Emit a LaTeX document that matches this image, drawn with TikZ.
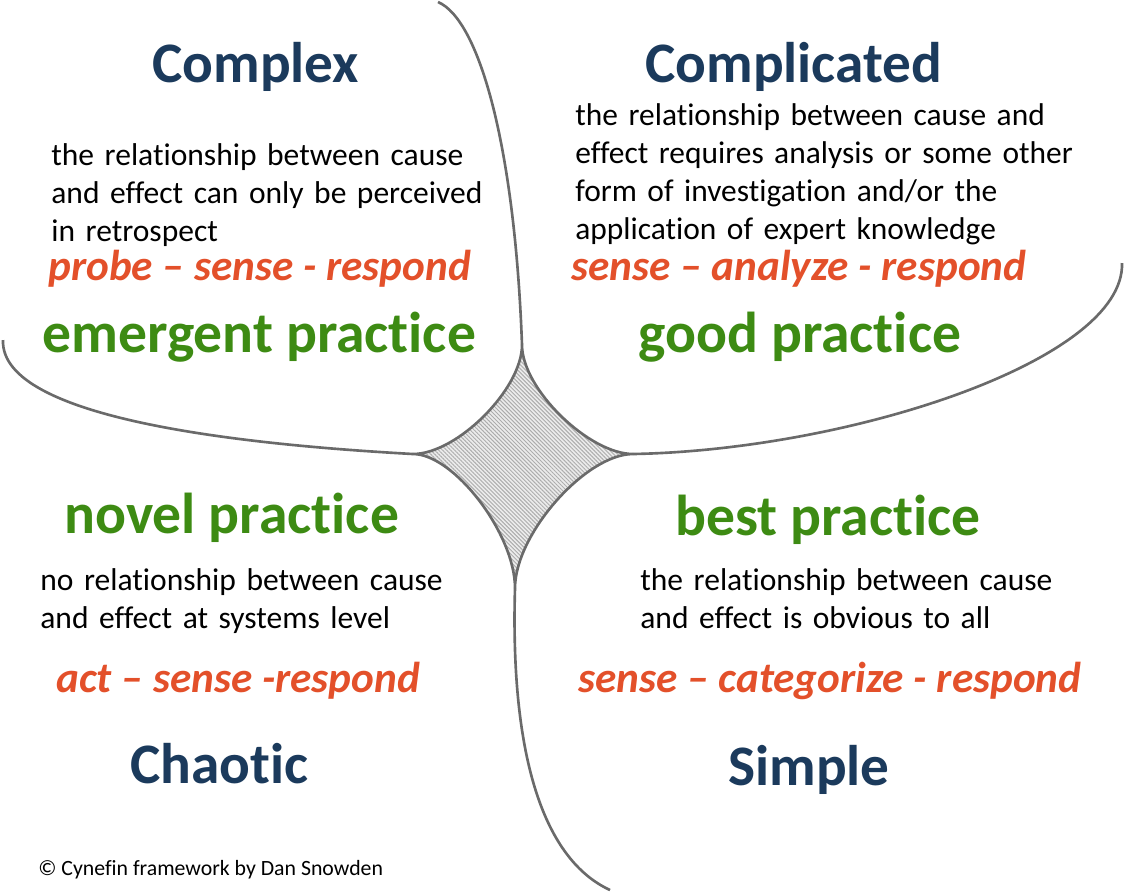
\documentclass[tikz,border=0pt]{standalone}
\usepackage{fontspec}
\setmainfont{Carlito}[RawFeature={-liga;-clig;-dlig;-calt}]
\definecolor{navy}{HTML}{1B3A5C}
\definecolor{leaf}{HTML}{3D8B13}
\definecolor{rust}{HTML}{E3502A}
\definecolor{edge}{HTML}{6A6A6A}
\usetikzlibrary{patterns.meta}

\begin{document}
\begin{tikzpicture}[
  x=0.02cm, y=-0.02cm,
  txt/.style={anchor=base west, inner sep=0pt, align=left},
  quadrant/.style={txt, text=navy, font=\fontsize{32.6}{39}\selectfont\bfseries},
  practice/.style={txt, text=leaf, font=\fontsize{32.8}{39}\selectfont\bfseries},
  response/.style={txt, text=rust, font=\fontsize{24.6}{29}\selectfont\bfseries\itshape},
  desc/.style={txt, text width=12cm, font=\fontsize{17.95}{21.8}\selectfont},
  border/.style={draw=edge, line width=1.5pt},
]
\useasboundingbox (0,0) rectangle (1125,894);

% centre star
\coordinate (top) at (522,345);
\coordinate (left) at (413,454);
\coordinate (right) at (633,454);
\coordinate (bottom) at (515,588);

\path[preaction={fill=gray!15},
  pattern={Lines[angle=-45, distance=1.6pt, line width=0.55pt]}, pattern color=gray!65]
  (top) .. controls (522,389) and (457,454) .. (left)
  .. controls (454,454) and (515,534) .. (bottom)
  .. controls (515,534) and (586,454) .. (right)
  .. controls (589,454) and (522,389) .. (top) -- cycle;
\draw[border]
  (top) .. controls (522,389) and (457,454) .. (left)
  .. controls (454,454) and (515,534) .. (bottom)
  .. controls (515,534) and (586,454) .. (right)
  .. controls (589,454) and (522,389) .. (top);

% the four boundaries
\draw[border] (top) .. controls (515,150) and (480,20) .. (438,2);
\draw[border] (left) .. controls (250,445) and (0,420) .. (3,340);
\draw[border] (right) .. controls (850,450) and (1125,360) .. (1122,263);
\draw[border] (bottom) .. controls (510,760) and (545,860) .. (610,890);

% Complex
\node[quadrant] (complexT) at (152,82) {Complex};
\node[desc] (complexD) at (51,165) {the relationship between cause\\
  and effect can only be perceived\\ in retrospect};
\node[response] (complexA) at (48,280) {probe – sense - respond};
\node[practice] (complexP) at (42,352) {emergent practice};

% Complicated
\node[quadrant] (complicT) at (645,82) {Complicated};
\node[desc, font=\fontsize{17.9}{21.7}\selectfont] (complicD) at (575,125)
  {the relationship between cause and\\ effect requires analysis or some other\\
  form of investigation and/or the\\ application of expert knowledge};
\node[response] (complicA) at (571,280) {sense – analyze - respond};
\node[practice] (complicP) at (638,352) {good practice};

% Chaotic
\node[practice] (chaosP) at (64,533) {novel practice};
\node[desc] (chaosD) at (40,590) {no relationship between cause\\
  and effect at systems level};
\node[response] (chaosA) at (56,692) {act – sense -respond};
\node[quadrant] (chaosT) at (130,783) {Chaotic};

% Simple
\node[practice] (simpleP) at (675,535) {best practice};
\node[desc] (simpleD) at (640,590) {the relationship between cause\\
  and effect is obvious to all};
\node[response] (simpleA) at (578,692) {sense – categorize - respond};
\node[quadrant] (simpleT) at (728,785) {Simple};

\node[txt, font=\fontsize{12.4}{15}\selectfont] (credit) at (38,875)
  {© Cynefin framework by Dan Snowden};
\end{tikzpicture}
\end{document}
